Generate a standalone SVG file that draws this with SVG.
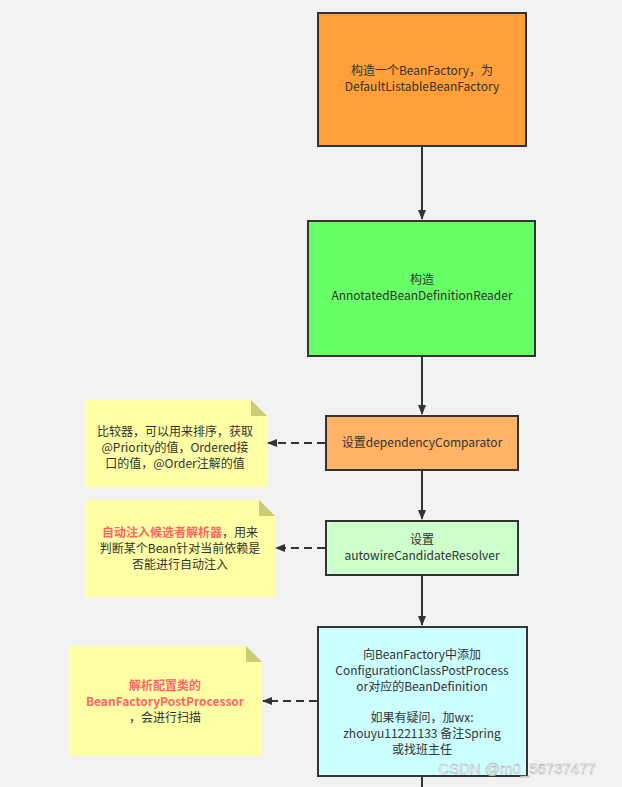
<svg xmlns="http://www.w3.org/2000/svg" width="622" height="787" viewBox="0 0 622 787">
<style>
text{font-family:"Noto Sans CJK SC","Noto Sans",sans-serif;font-size:12px;fill:#333;text-anchor:middle}
.b{stroke:#333;stroke-width:2}
.n{fill:#ffffa5}
.f{fill:#cccc77}
.r{fill:#ff6666;font-weight:bold}
.c{stroke:#333;stroke-width:2;fill:none}
.d{stroke-dasharray:8 5}
</style>
<defs><marker id="a" markerWidth="10" markerHeight="10" refX="9" refY="5" orient="auto" markerUnits="userSpaceOnUse"><path d="M0,1 L10,5 L0,9 Z" fill="#333"/></marker></defs>
<rect width="622" height="787" fill="#f2f2f2"/>
<g id="connectors">
<path class="c" d="M422,147 V219" marker-end="url(#a)"/>
<path class="c" d="M422,357 V414" marker-end="url(#a)"/>
<path class="c" d="M422,471 V519" marker-end="url(#a)"/>
<path class="c" d="M422,576 V625" marker-end="url(#a)"/>
<path class="c" d="M422,777 V787"/>
<path class="c d" d="M325,443 H268" marker-end="url(#a)"/>
<path class="c d" d="M325,548 H276" marker-end="url(#a)"/>
<path class="c d" d="M317,701 H263" marker-end="url(#a)"/>
</g>
<g id="n1"><rect class="b" x="318" y="13" width="208" height="133" fill="#ff9f3a"/><text x="422" y="75">构造一个BeanFactory，为</text><text x="422" y="91">DefaultListableBeanFactory</text></g>
<g id="n2"><rect class="b" x="308" y="221" width="227" height="135" fill="#66ff66"/><text x="422" y="284">构造</text><text x="422" y="300">AnnotatedBeanDefinitionReader</text></g>
<g id="n3"><rect class="b" x="326" y="416" width="192" height="54" fill="#ffb366"/><text x="422" y="447">设置dependencyComparator</text></g>
<g id="n4"><rect class="b" x="326" y="521" width="192" height="54" fill="#ccffcc"/><text x="422" y="544">设置</text><text x="422" y="560">autowireCandidateResolver</text></g>
<g id="n5"><rect class="b" x="318" y="627" width="209" height="149" fill="#ccffff"/>
<text x="422" y="659">向BeanFactory中添加</text><text x="422" y="675">ConfigurationClassPostProcess</text><text x="422" y="691">or对应的BeanDefinition</text>
<text x="422" y="722">如果有疑问，加wx:</text><text x="422" y="738">zhouyu11221133 备注Spring</text><text x="422" y="754">或找班主任</text></g>
<g id="note1"><path class="n" d="M85,400 H251 L267,416 V487 H85 Z"/><path class="f" d="M251,400 L267,416 H251 Z"/>
<text x="175" y="436">比较器，可以用来排序，获取</text><text x="175" y="452">@Priority的值，Ordered接</text><text x="175" y="468">口的值，@Order注解的值</text></g>
<g id="note2"><path class="n" d="M85,500 H259 L275,516 V597 H85 Z"/><path class="f" d="M259,500 L275,516 H259 Z"/>
<text x="180" y="537"><tspan class="r">自动注入候选者解析器</tspan>，用来</text><text x="180" y="553">判断某个Bean针对当前依赖是</text><text x="180" y="569">否能进行自动注入</text></g>
<g id="note3"><path class="n" d="M69,646 H246 L262,662 V756 H69 Z"/><path class="f" d="M246,646 L262,662 H246 Z"/>
<text class="r" x="165" y="690">解析配置类的</text><text class="r" x="165" y="706">BeanFactoryPostProcessor</text><text x="165" y="722">，会进行扫描</text></g>
<text x="517" y="774" style="font-family:'Liberation Sans',sans-serif;font-size:15px;fill:#fff;stroke:#999;stroke-width:0.4">CSDN @m0_56737477</text>
</svg>
